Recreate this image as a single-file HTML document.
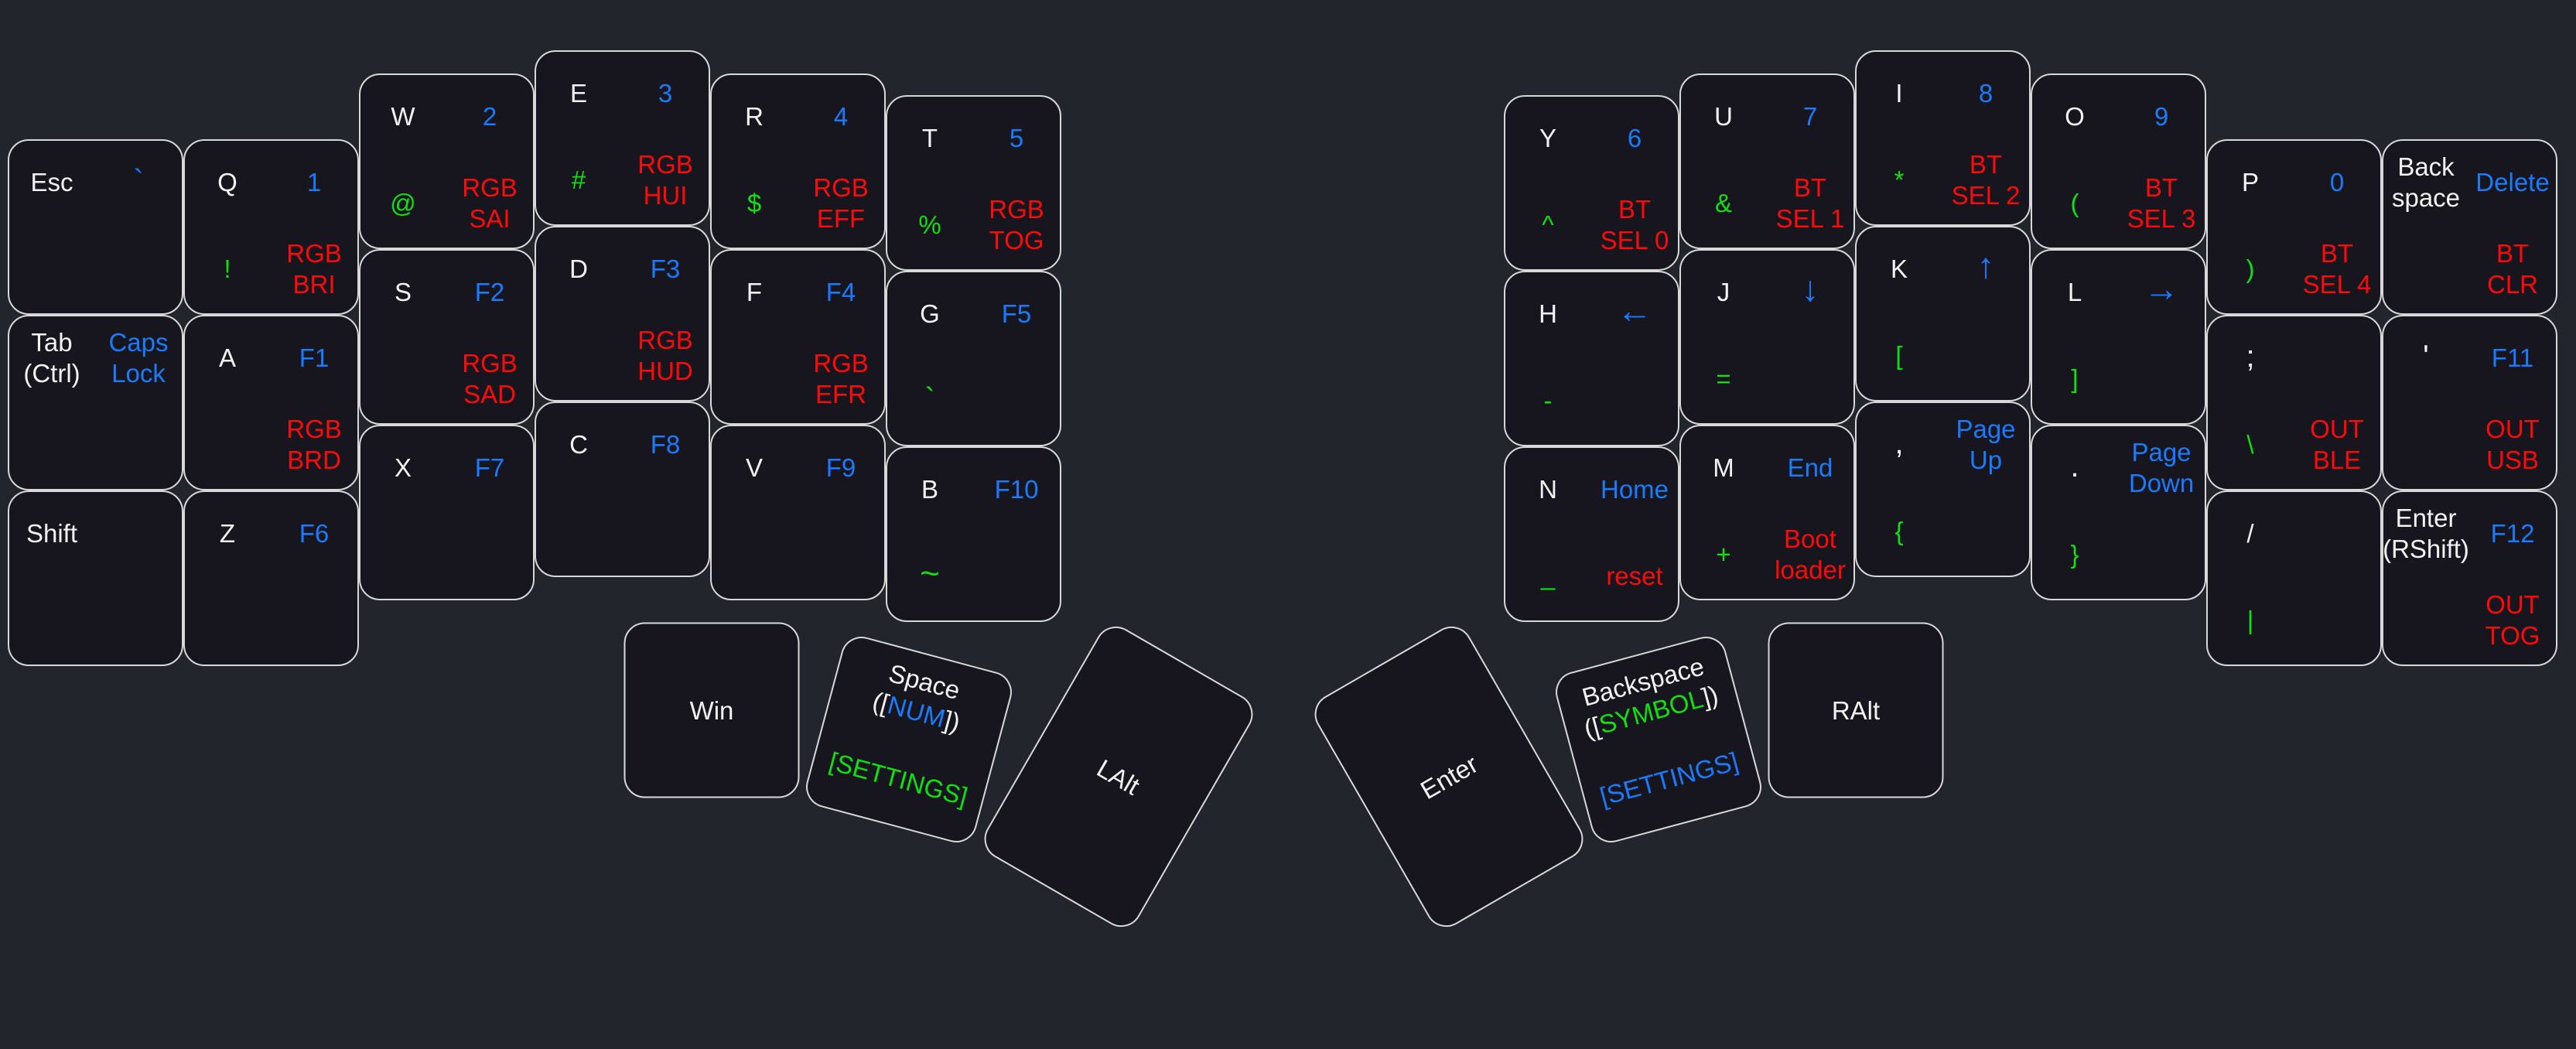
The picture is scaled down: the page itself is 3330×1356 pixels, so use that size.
<!DOCTYPE html>
<html><head><meta charset="utf-8"><style>
html,body{margin:0;padding:0;background:#22262c;}
svg{display:block}
text{font-family:"Liberation Sans",Arial,sans-serif;font-size:33px;text-anchor:middle}
.w{fill:#f2f2f2}.b{fill:#1a7bff}.r{fill:#ff0a0a}.g{fill:#10e010}
rect.k{fill:#17161e;stroke:#d8d8d8;stroke-width:2}
</style></head><body>
<svg width="3330" height="1356" viewBox="0 0 3330 1356" xmlns="http://www.w3.org/2000/svg">
<rect width="3330" height="1356" fill="#22262c"/>
<defs><rect id="K" class="k" width="225" height="225" rx="26"/></defs>
<g id="keys"></g>
<script>
var cols=[
 [11,181,[["Esc","`",null,null],[["Tab","(Ctrl)"],["Caps","Lock"],null,null],["Shift",null,null,null]]],
 [238,181,[["Q","1","!",["RGB","BRI"]],["A","F1",null,["RGB","BRD"]],["Z","F6",null,null]]],
 [465,96,[["W","2","@",["RGB","SAI"]],["S","F2",null,["RGB","SAD"]],["X","F7",null,null]]],
 [692,66,[["E","3","#",["RGB","HUI"]],["D","F3",null,["RGB","HUD"]],["C","F8",null,null]]],
 [919,96,[["R","4","$",["RGB","EFF"]],["F","F4",null,["RGB","EFR"]],["V","F9",null,null]]],
 [1146,124,[["T","5","%",["RGB","TOG"]],["G","F5","`",null],["B","F10","~",null]]],
 [1945,124,[["Y","6","^",["BT","SEL 0"]],["H","\u2190","-",null],["N","Home","_","reset"]]],
 [2172,96,[["U","7","&",["BT","SEL 1"]],["J","\u2193","=",null],["M","End","+",["Boot","loader"]]]],
 [2399,66,[["I","8","*",["BT","SEL 2"]],["K","\u2191","[",null],[",",["Page","Up"],"{",null]]],
 [2626,96,[["O","9","(",["BT","SEL 3"]],["L","\u2192","]",null],[".",["Page","Down"],"}",null]]],
 [2853,181,[["P","0",")",["BT","SEL 4"]],[";",null,"\\",["OUT","BLE"]],["/",null,"|",null]]],
 [3080,181,[[["Back","space"],"Delete",null,["BT","CLR"]],["'","F11",null,["OUT","USB"]],[["Enter","(RShift)"],"F12",null,["OUT","TOG"]]]]
];
var NS="http://www.w3.org/2000/svg",g=document.getElementById("keys");
function el(n,a,p){var e=document.createElementNS(NS,n);for(var k in a)e.setAttribute(k,a[k]);(p||g).appendChild(e);return e;}
var big={"~":44,"\u2190":46,"\u2191":46,"\u2192":46,"\u2193":46,",":40,".":40,";":40,"'":40,"`":40};
function txt(p,s,x,y,c){if(s==null)return;var L=Array.isArray(s)?s:[s];var y0=y-(L.length-1)*20;
 L.forEach(function(t,i){var e=el("text",{x:x,y:y0+i*40+12,"class":c},p);if(big[t])e.setAttribute("style","font-size:"+big[t]+"px");e.textContent=t;});}
cols.forEach(function(c){c[2].forEach(function(k,i){
 var gg=el("g",{transform:"translate("+c[0]+","+(c[1]+i*227)+")"});
 el("use",{href:"#K"},gg);
 txt(gg,k[0],56,54,"w");txt(gg,k[1],168,54,"b");txt(gg,k[2],56,166,"g");txt(gg,k[3],168,166,"r");
});});
function thumb(cx,cy,w,h,rot,labels){
 var gg=el("g",{transform:"translate("+cx+","+cy+") rotate("+rot+")"});
 el("rect",{"class":"k",x:-w/2,y:-h/2,width:w,height:h,rx:26},gg);
 labels.forEach(function(l){var e=el("text",{x:0,y:l[0],"class":"w"},gg);
  l[1].forEach(function(s){var t=el("tspan",{"class":s[1]},e);t.textContent=s[0];});});
}
thumb(920,918,225,225,0,[[12,[["Win","w"]]]]);
thumb(2399,918,225,225,0,[[12,[["RAlt","w"]]]]);
thumb(1175,956,225,225,15,[[-66,[["Space","w"]]],[-26,[["([","w"],["NUM","b"],["])","w"]]],[64,[["[SETTINGS]","g"]]]]);
thumb(2144,956,225,225,-15,[[-66,[["Backspace","w"]]],[-26,[["([","w"],["SYMBOL","g"],["])","w"]]],[64,[["[SETTINGS]","b"]]]]);
thumb(1446,1004,225,338,30,[[12,[["LAlt","w"]]]]);
thumb(1873,1004,225,338,-30,[[12,[["Enter","w"]]]]);
</script>
</svg>
</body></html>
